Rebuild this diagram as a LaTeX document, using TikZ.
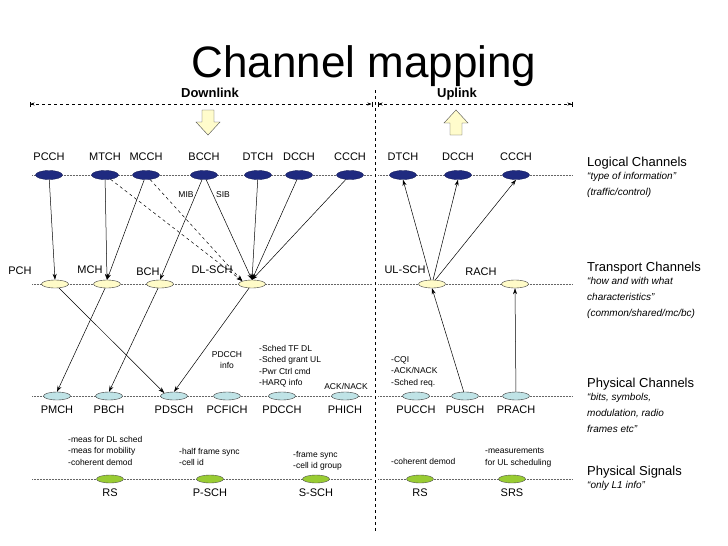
\documentclass[tikz,border=0pt]{standalone}
\usepackage{fontspec}
\setmainfont{Liberation Sans}
\usetikzlibrary{shapes.geometric,arrows.meta}
\definecolor{lg}{HTML}{1F2A80}
\definecolor{tr}{HTML}{FFFBC8}
\definecolor{ph}{HTML}{BFE3E6}
\definecolor{sg}{HTML}{99CC33}
\begin{document}
\begin{tikzpicture}[x=1pt,y=-1pt,
 ell/.style={ellipse,draw,inner sep=0pt,minimum width=27pt,minimum height=9pt},
 L/.style={ell,fill=lg,draw=lg!70!black},
 T/.style={ell,fill=tr,draw=black!80,minimum height=8pt},
 P/.style={ell,fill=ph,draw=black!80,minimum height=8pt},
 S/.style={ell,fill=sg,draw=black!70,minimum height=8pt},
 lab/.style={font=\fontsize{11}{12}\selectfont,inner sep=1pt},
 sm/.style={font=\fontsize{8.5}{11.5}\selectfont,inner sep=0pt,align=left},
 hd/.style={font=\fontsize{13}{15}\selectfont,anchor=west,inner sep=0pt},
 it/.style={font=\fontsize{10}{16}\itshape\selectfont,anchor=north west,align=left,inner sep=0pt},
 dl/.style={densely dotted,black!60,line width=0.5pt},
 ar/.style={-{Stealth[length=6pt,width=4pt]},line width=0.5pt},
 da/.style={ar,dashed}]
\useasboundingbox (0,0) rectangle (728,546);
\node[font=\fontsize{44}{48}\selectfont] (title) at (364,66) {Channel mapping};
\node[font=\bfseries\fontsize{13}{15}\selectfont] (dn) at (210,93) {Downlink};
\node[font=\bfseries\fontsize{13}{15}\selectfont] (up) at (457,94) {Uplink};
\coordinate (d1) at (30,104); \coordinate (d2) at (372,104);
\coordinate (u1) at (378,104); \coordinate (u2) at (572,104);
\draw[dashed,{Bar[]Stealth[length=4pt]}-{Stealth[length=4pt]Bar[]},line width=0.5pt] (d1)--(d2);
\draw[dashed,{Bar[]Stealth[length=4pt]}-{Stealth[length=4pt]Bar[]},line width=0.5pt] (u1)--(u2);
\coordinate (v1) at (375,90); \coordinate (v2) at (375,532);
\draw[dashed,line width=0.5pt] (v1)--(v2);
\draw[fill=yellow!20,draw=black!70] (202,110)--(214,110)--(214,122)--(220,122)--(208,135)--(196,122)--(202,122)--cycle;
\draw[fill=yellow!20,draw=black!70] (450,135)--(462,135)--(462,123)--(468,123)--(456,110)--(444,123)--(450,123)--cycle;
\foreach \y in {175,284,396,479}{\draw[dl] (32,\y)--(372,\y); \draw[dl] (378,\y)--(572,\y);}
\foreach \n/\x/\t in {pcch/49/PCCH,mtch/105/MTCH,mcch/146/MCCH,bcch/204/BCCH,dtch/258/DTCH,dcch/299/DCCH,ccch/350/CCCH,udtch/403/DTCH,udcch/458/DCCH,uccch/516/CCCH}{
 \node[L] (\n) at (\x,175) {};
 \node[lab] (\n l) at (\x,157) {\t};}
\foreach \n/\x in {pch/55,mch/107,bch/160,dlsch/252,ulsch/432,rach/515}{\node[T] (\n) at (\x,284) {};}
\node[lab] (pchl) at (20,271) {PCH};
\node[lab] (mchl) at (90,270) {MCH};
\node[lab] (bchl) at (148,272) {BCH};
\node[lab] (dlschl) at (212,270) {DL-SCH};
\node[lab] (ulschl) at (405,270) {UL-SCH};
\node[lab] (rachl) at (481,272) {RACH};
\foreach \n/\x/\t in {pmch/57/PMCH,pbch/109/PBCH,pdsch/174/PDSCH,pcfich/227/PCFICH,pdcch/282/PDCCH,phich/345/PHICH,pucch/416/PUCCH,pusch/465/PUSCH,prach/516/PRACH}{
 \node[P] (\n) at (\x,396) {};
 \node[lab] (\n l) at (\x,410) {\t};}
\foreach \n/\x/\t in {rs/110/RS,psch/210/P-SCH,ssch/316/S-SCH,urs/420/RS,srs/512/SRS}{
 \node[S] (\n) at (\x,479) {};
 \node[lab] (\n l) at (\x,493) {\t};}
\draw[ar] (pcch)--(pch.north);
\draw[ar] (mtch)--(mch.north);
\draw[ar] (mcch)--(mch.north);
\draw[ar] (bcch)--(bch.north);
\draw[ar] (bcch)--(dlsch.north);
\draw[ar] (dtch)--(dlsch.north);
\draw[ar] (dcch)--(dlsch.north);
\draw[ar] (ccch)--(dlsch.north);
\draw[da] (mtch)--(dlsch.north west);
\draw[da] (mcch)--(dlsch.north west);
\node[sm] (mib) at (186,195) {MIB};
\node[sm] (sib) at (223,195) {SIB};
\draw[ar] (ulsch)--(udtch.south);
\draw[ar] (ulsch)--(udcch.south);
\draw[ar] (ulsch)--(uccch.south);
\draw[ar] (pch)--(pdsch.north west);
\draw[ar] (mch)--(pmch.north);
\draw[ar] (bch)--(pbch.north);
\draw[ar] (dlsch)--(pdsch.north);
\draw[ar] (pusch)--(ulsch.south);
\draw[ar] (prach)--(rach.south);
\node[sm,align=center] (pdi) at (227,360) {PDCCH\\info};
\node[sm,anchor=north west] (sched) at (259,345) {-Sched TF DL\\-Sched grant UL\\-Pwr Ctrl cmd\\-HARQ info};
\node[sm] (ack) at (346,386) {ACK/NACK};
\node[sm,anchor=north west] (cqi) at (391,356) {-CQI\\-ACK/NACK\\-Sched req.};
\node[sm,anchor=north west] (meas) at (68,436) {-meas for DL sched\\-meas for mobility\\-coherent demod};
\node[sm,anchor=north west] (half) at (179,448) {-half frame sync\\-cell id};
\node[sm,anchor=north west] (fs) at (293,451) {-frame sync\\-cell id group};
\node[sm,anchor=north west] (coh) at (391,458) {-coherent demod};
\node[sm,anchor=north west] (msr) at (485,448) {-measurements\\for UL scheduling};
\node[hd] (lc) at (587,163) {Logical Channels};
\node[it] (lct) at (587,172) {“type of information”\\(traffic/control)};
\node[hd] (tc) at (587,268) {Transport Channels};
\node[it] (tct) at (587,277) {“how and with what\\characteristics”\\(common/shared/mc/bc)};
\node[hd] (pc) at (587,384) {Physical Channels};
\node[it] (pct) at (587,393) {“bits, symbols,\\modulation, radio\\frames etc”};
\node[hd] (ps) at (587,472) {Physical Signals};
\node[it] (pst) at (587,481) {“only L1 info”};
\end{tikzpicture}
\end{document}
